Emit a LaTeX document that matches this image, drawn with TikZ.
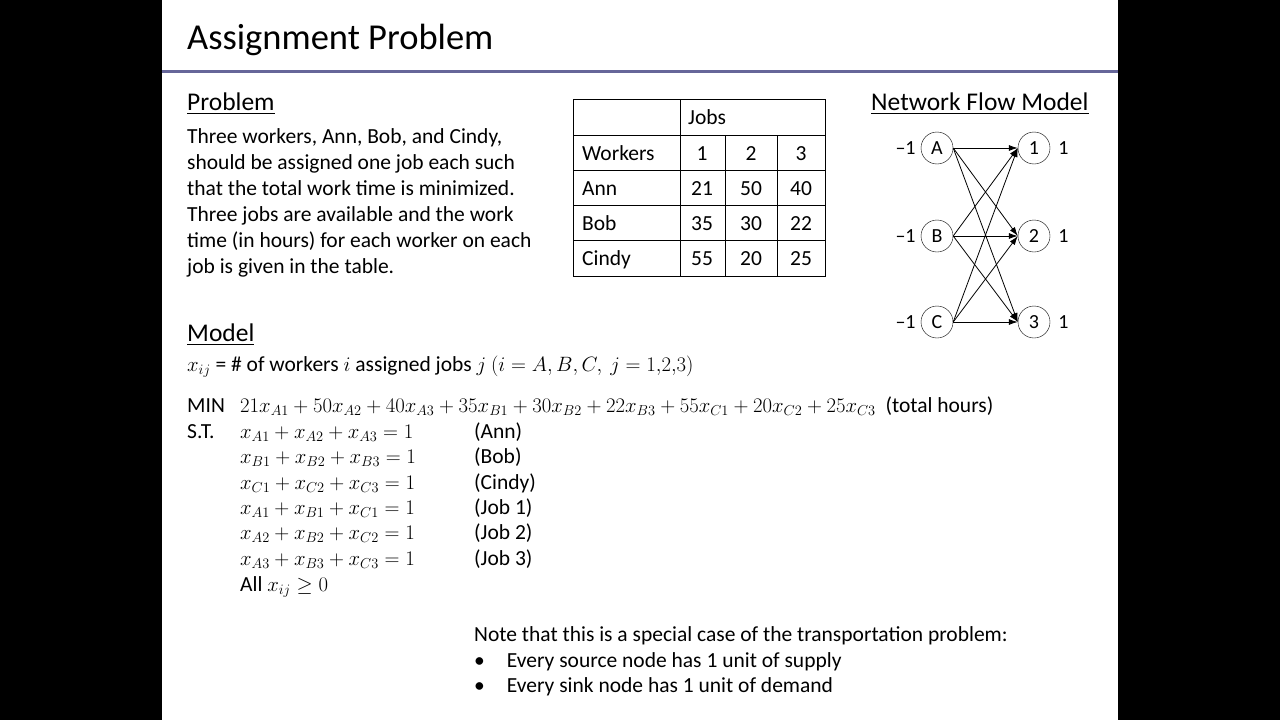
\documentclass[tikz,border=0pt]{standalone}
\usepackage{fontspec}
\usepackage{amsmath}
\setmainfont{Carlito}
\usetikzlibrary{arrows.meta}
\newcommand\MM[1]{{\fontsize{20.8}{24}\selectfont$#1$}}
\begin{document}
\begin{tikzpicture}[x=1pt,y=-1pt,
  txt/.style={anchor=base west,inner sep=0pt,font=\fontsize{21.5}{26}\selectfont},
  hd/.style={txt,font=\fontsize{25.5}{30}\selectfont},
  nd/.style={circle,draw,minimum size=32pt,inner sep=0pt,font=\fontsize{20}{24}\selectfont},
  arr/.style={-{Latex[length=9pt,width=6pt]},line width=0.8pt},
  tl/.style={line width=0.8pt}]
\useasboundingbox (0,0) rectangle (1280,720);
\fill[black] (0,0) rectangle (162,720);
\fill[black] (1118,0) rectangle (1280,720);
\fill[white] (162,0) rectangle (1118,720);
\draw[line width=3pt,color=gray!80!blue] (162,71) -- (1118,71);
\node[anchor=base west,inner sep=0pt,font=\fontsize{36.5}{42}\selectfont] (title) at (187,49) {Assignment Problem};
\node[hd] (ph) at (187,110) {\underline{Problem}};
\node[anchor=north west,inner sep=0pt,align=left,font=\fontsize{21.5}{26}\selectfont] (pt) at (187,128) {Three workers, Ann, Bob, and Cindy,\\should be assigned one job each such\\that the total work time is minimized.\\Three jobs are available and the work\\time (in hours) for each worker on each\\job is given in the table.};
% table
\draw[tl] (573,99) rectangle (825,276);
\foreach \y in {135,170,205,240} \draw[tl] (573,\y) -- (825,\y);
\draw[tl] (680,99) -- (680,276);
\draw[tl] (725,135) -- (725,276);
\draw[tl] (777,135) -- (777,276);
\begin{scope}[every node/.append style={font=\fontsize{20}{24}\selectfont}]
\node[txt] (jobs) at (688,124) {Jobs};
\node[txt] (wk) at (582,160) {Workers};
\node[txt] (ann) at (582,195) {Ann};
\node[txt] (bob) at (582,230) {Bob};
\node[txt] (cin) at (582,265) {Cindy};
\foreach \x/\a/\b/\c/\d [count=\i] in {702/1/21/35/55,751/2/50/30/20,801/3/40/22/25}{
 \node[txt,anchor=base] (h\i) at (\x,160) {\a};
 \node[txt,anchor=base] (r1\i) at (\x,195) {\b};
 \node[txt,anchor=base] (r2\i) at (\x,230) {\c};
 \node[txt,anchor=base] (r3\i) at (\x,265) {\d};}
\end{scope}
% network
\node[hd] (nh) at (871,110) {\underline{Network Flow Model}};
\node[nd] (A) at (937,148) {A};
\node[nd] (B) at (937,236) {B};
\node[nd] (C) at (937,322) {C};
\node[nd] (J1) at (1034,148) {1};
\node[nd] (J2) at (1034,236) {2};
\node[nd] (J3) at (1034,322) {3};
\foreach \s in {A,B,C}{\node[txt,anchor=east,font=\fontsize{20}{24}\selectfont] (m\s) at ([xshift=-5pt]\s.west) {–1};}
\foreach \s in {J1,J2,J3}{\node[txt,anchor=west,font=\fontsize{20}{24}\selectfont] (p\s) at ([xshift=8pt]\s.east) {1};}
\foreach \s in {A,B,C}\foreach \t in {J1,J2,J3}\draw[arr] (\s.east) -- (\t.west);
% model
\node[hd] (mh) at (187,341) {\underline{Model}};
\node[txt] (xdef) at (187,371) {\MM{x_{ij}} = \# of workers \MM{i} assigned jobs \MM{j} \MM{(i=A,B,C,\ j=1{,}2{,}3)}};
\node[txt] (min) at (187,412) {MIN};
\node[txt] (obj) at (240,412) {\MM{21x_{A1}+50x_{A2}+40x_{A3}+35x_{B1}+30x_{B2}+22x_{B3}+55x_{C1}+20x_{C2}+25x_{C3}}\ \ (total hours)};
\node[txt] (st) at (187,438) {S.T.};
\foreach \e/\l/\y [count=\i] in {{x_{A1}+x_{A2}+x_{A3}=1}/(Ann)/438,{x_{B1}+x_{B2}+x_{B3}=1}/(Bob)/463,{x_{C1}+x_{C2}+x_{C3}=1}/(Cindy)/489,{x_{A1}+x_{B1}+x_{C1}=1}/(Job 1)/514,{x_{A2}+x_{B2}+x_{C2}=1}/(Job 2)/539,{x_{A3}+x_{B3}+x_{C3}=1}/(Job 3)/565}{
 \node[txt] (c\i) at (240,\y) {\MM{\e}};
 \node[txt] (cl\i) at (474,\y) {\l};}
\node[txt] (all) at (240,591) {All \MM{x_{ij}\geq 0}};
\node[txt] (note) at (474,641) {Note that this is a special case of the transportation problem:};
\node[txt] (b1) at (474,667) {\textbullet\hspace{22pt}Every source node has 1 unit of supply};
\node[txt] (b2) at (474,692) {\textbullet\hspace{22pt}Every sink node has 1 unit of demand};
\end{tikzpicture}
\end{document}
